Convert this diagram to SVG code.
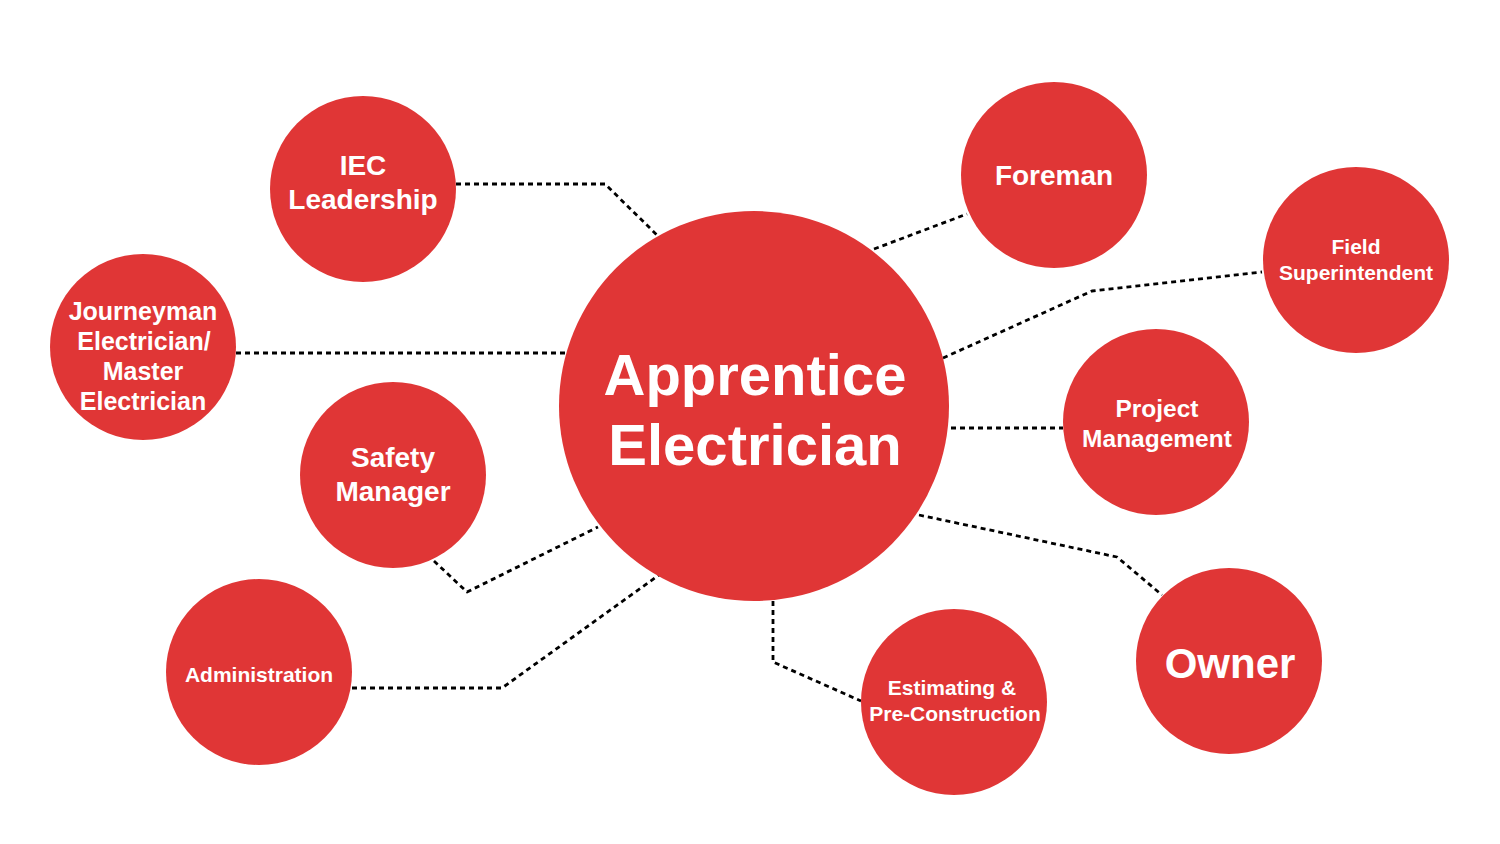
<svg xmlns="http://www.w3.org/2000/svg" width="1500" height="844" viewBox="0 0 1500 844">
<style>
.n{fill:#E03636}
.t{fill:#fff;font-family:"Liberation Sans",Arial,Helvetica,sans-serif;font-weight:bold;text-anchor:middle}
.c{fill:none;stroke:#000;stroke-width:2.8;stroke-dasharray:5 4;stroke-linejoin:round}
</style>
<rect width="1500" height="844" fill="#fff"/>
<g id="connectors">
<polyline class="c" points="456,184 605,184 658,236"/>
<polyline class="c" points="236,353 566,353"/>
<polyline class="c" points="434,561 467,592 598,527"/>
<polyline class="c" points="352,688 502,688 659,575"/>
<polyline class="c" points="874,249 967,214"/>
<polyline class="c" points="943,358 1092,291 1262,272"/>
<polyline class="c" points="951,428 1063,428"/>
<polyline class="c" points="919,515 1117,557 1162,595"/>
<polyline class="c" points="773,601 773,662 861,701"/>
</g>
<g id="apprentice">
<circle class="n" cx="754" cy="406" r="195"/>
<text class="t" font-size="58" x="755" y="395">Apprentice</text>
<text class="t" font-size="58" x="755" y="465">Electrician</text>
</g>
<g id="iec">
<circle class="n" cx="363" cy="189" r="93"/>
<text class="t" font-size="28" x="363" y="175">IEC</text>
<text class="t" font-size="28" x="363" y="209">Leadership</text>
</g>
<g id="journeyman">
<circle class="n" cx="143" cy="347" r="93"/>
<text class="t" font-size="25" x="143" y="320">Journeyman</text>
<text class="t" font-size="25" x="144" y="350">Electrician/</text>
<text class="t" font-size="25" x="143" y="380">Master</text>
<text class="t" font-size="25" x="143" y="410">Electrician</text>
</g>
<g id="safety">
<circle class="n" cx="393" cy="475" r="93"/>
<text class="t" font-size="28" x="393" y="467">Safety</text>
<text class="t" font-size="28" x="393" y="501">Manager</text>
</g>
<g id="administration">
<circle class="n" cx="259" cy="672" r="93"/>
<text class="t" font-size="21" x="259" y="682">Administration</text>
</g>
<g id="foreman">
<circle class="n" cx="1054" cy="175" r="93"/>
<text class="t" font-size="28" x="1054" y="185">Foreman</text>
</g>
<g id="field">
<circle class="n" cx="1356" cy="260" r="93"/>
<text class="t" font-size="21" x="1356" y="254">Field</text>
<text class="t" font-size="21" x="1356" y="280">Superintendent</text>
</g>
<g id="project">
<circle class="n" cx="1156" cy="422" r="93"/>
<text class="t" font-size="24.5" x="1157" y="417">Project</text>
<text class="t" font-size="24.5" x="1157" y="447">Management</text>
</g>
<g id="owner">
<circle class="n" cx="1229" cy="661" r="93"/>
<text class="t" font-size="42" x="1230" y="678">Owner</text>
</g>
<g id="estimating">
<circle class="n" cx="954" cy="702" r="93"/>
<text class="t" font-size="21" x="952" y="695">Estimating &amp;</text>
<text class="t" font-size="21" x="955" y="721">Pre-Construction</text>
</g>
</svg>
